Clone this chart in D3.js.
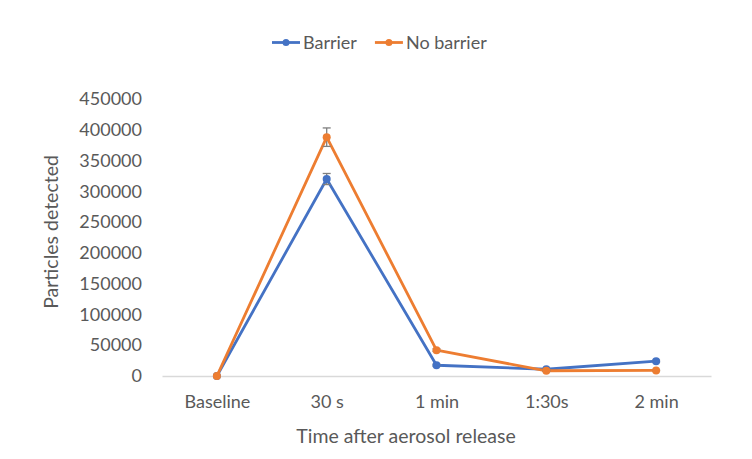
<!DOCTYPE html>
<html>
<head>
<meta charset="utf-8">
<script src="https://cdn.jsdelivr.net/npm/d3@7"></script>
<style>
	body { margin: 0; background: #fff; }
	text { font-family: Lato, "Open Sans", sans-serif; fill: #595959; }
</style>
</head>
<body>
<div id="chart"></div>
<script>
const categories = ["Baseline", "30 s", "1 min", "1:30s", "2 min"];
const barrier = [0, 320000, 17500, 11000, 24000];
const noBarrier = [0, 388000, 42000, 8500, 9000];
const barrierErr = [0, 9000, 1500, 1000, 1500];
const noBarrierErr = [0, 15000, 2000, 800, 800];
const yTicks = [0, 50000, 100000, 150000, 200000, 250000, 300000, 350000, 400000, 450000];

const W = 752, H = 459;
const margin = {top: 99, right: 41, bottom: 83, left: 162};
const width = W - margin.left - margin.right;
const height = H - margin.top - margin.bottom;

const svg = d3.select("#chart").append("svg")
	.attr("width", W)
	.attr("height", H);

const g = svg.append("g")
	.attr("transform", "translate(" + margin.left + "," + margin.top + ")");

const xScale = d3.scalePoint()
	.domain(categories)
	.range([0, width])
	.padding(0.5);

const yScale = d3.scaleLinear()
	.domain([0, 450000])
	.range([height, 0]);

// y axis labels only, no line
const yAxis = g.append("g")
	.call(d3.axisLeft(yScale).tickValues(yTicks).tickSize(0).tickPadding(20).tickFormat(d3.format("d")));
yAxis.select(".domain").remove();
yAxis.selectAll("text").style("font-size", "18px");

// x axis
const xAxis = g.append("g")
	.attr("transform", "translate(0," + height + ")")
	.call(d3.axisBottom(xScale).tickSize(0).tickPadding(19));
xAxis.select(".domain").attr("stroke", "#d9d9d9").attr("stroke-width", 1.3);
xAxis.selectAll("text").style("font-size", "18px");

const series = [
	{name: "Barrier", values: barrier, err: barrierErr, color: "#4472C4"},
	{name: "No barrier", values: noBarrier, err: noBarrierErr, color: "#ED7D31"}
];

const line = d3.line()
	.x(function(d, i) { return xScale(categories[i]); })
	.y(function(d) { return yScale(d); });

series.forEach(function(s) {
	g.append("path")
		.datum(s.values)
		.attr("fill", "none")
		.attr("stroke", s.color)
		.attr("stroke-width", 2.8)
		.attr("stroke-linejoin", "round")
		.attr("d", line);

	// error bars
	const eb = g.append("g").selectAll("g")
		.data(s.values.map(function(v, i) { return {v: v, e: s.err[i], c: categories[i]}; }))
		.enter().append("g")
		.attr("stroke", "#7f7f7f")
		.attr("stroke-width", 1.3);
	eb.append("line")
		.attr("x1", function(d) { return xScale(d.c); })
		.attr("x2", function(d) { return xScale(d.c); })
		.attr("y1", function(d) { return yScale(d.v - d.e); })
		.attr("y2", function(d) { return yScale(d.v + d.e); });
	eb.filter(function(d) { return d.e > 0; }).append("line")
		.attr("x1", function(d) { return xScale(d.c) - 4; })
		.attr("x2", function(d) { return xScale(d.c) + 4; })
		.attr("y1", function(d) { return yScale(d.v + d.e); })
		.attr("y2", function(d) { return yScale(d.v + d.e); });
	eb.filter(function(d) { return d.e > 0; }).append("line")
		.attr("x1", function(d) { return xScale(d.c) - 4; })
		.attr("x2", function(d) { return xScale(d.c) + 4; })
		.attr("y1", function(d) { return yScale(d.v - d.e); })
		.attr("y2", function(d) { return yScale(d.v - d.e); });

	g.append("g").selectAll("circle")
		.data(s.values)
		.enter().append("circle")
		.attr("cx", function(d, i) { return xScale(categories[i]); })
		.attr("cy", function(d) { return yScale(d); })
		.attr("r", 4)
		.attr("fill", s.color);
});

// axis titles
svg.append("text")
	.attr("x", 406)
	.attr("y", 443)
	.attr("text-anchor", "middle")
	.style("font-size", "19.5px")
	.text("Time after aerosol release");

svg.append("text")
	.attr("transform", "translate(58,232) rotate(-90)")
	.attr("text-anchor", "middle")
	.style("font-size", "19.5px")
	.text("Particles detected");

// legend
const legend = svg.append("g").attr("transform", "translate(272,42.5)");
let lx = 0;
series.forEach(function(s) {
	const item = legend.append("g").attr("transform", "translate(" + lx + ",0)");
	item.append("line")
		.attr("x1", 0).attr("x2", 28)
		.attr("stroke", s.color).attr("stroke-width", 2.8);
	item.append("circle").attr("cx", 14).attr("r", 3.5).attr("fill", s.color);
	const t = item.append("text")
		.attr("x", 31).attr("y", 6)
		.style("font-size", "18px")
		.text(s.name);
	lx += 31 + t.node().getComputedTextLength() + 18;
});
</script>
</body>
</html>
